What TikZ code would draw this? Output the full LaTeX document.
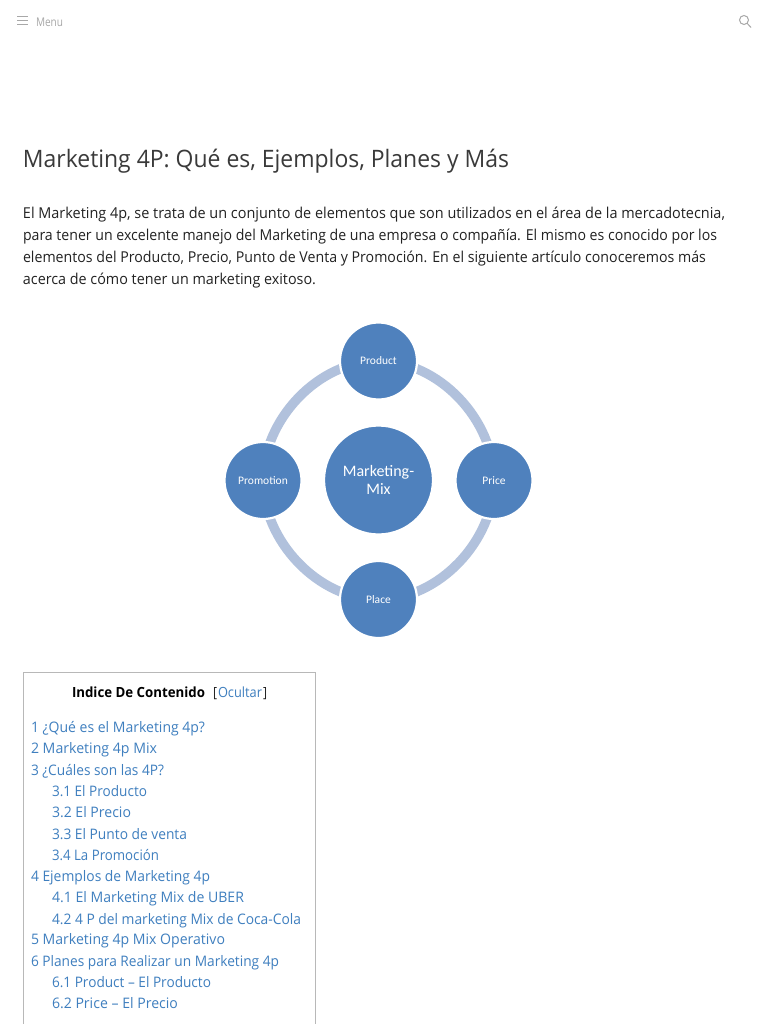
\documentclass[tikz,border=0pt]{standalone}
\usepackage{fontspec}
\usepackage{graphicx}
\setmainfont{Open Sans}
\newfontfamily\diagfont{Carlito}
\definecolor{hub}{HTML}{4F81BD}
\definecolor{ringc}{HTML}{B1C1DC}
\definecolor{linkc}{HTML}{3F7FBF}
\definecolor{inkc}{HTML}{222222}
\definecolor{titlec}{HTML}{3A3A3A}
\definecolor{menuc}{HTML}{A8A8A8}
\definecolor{boxc}{HTML}{B8B8B8}
\newcommand{\pagetext}[6]{%
  \node[txt,#1] (#2) at (#3) {\resizebox{#4pt}{\height}{#5#6}};}
\tikzset{
  txt/.style={anchor=base west,inner sep=0pt,outer sep=0pt},
  para/.style={text=inkc},
  toc/.style={text=linkc},
  circ/.style={circle,fill=hub,draw=white,line width=2.2pt,text=white,align=center,font=\diagfont,inner sep=0pt},
  ringarc/.style={draw=ringc,line width=9.5pt,looseness=0.93},
  icon/.style={draw=menuc,line width=1pt}
}
\begin{document}
\begin{tikzpicture}[x=1pt,y=-1pt]
\useasboundingbox (0,0) rectangle (768,1024);
\clip (0,0) rectangle (768,1024);
\fill[white] (0,0) rectangle (768,1024);
% header
\draw[icon] (17,17) -- (28,17) (17,21) -- (28,21) (17,25) -- (28,25);
\pagetext{text=menuc}{menu}{36,26.5}{27}{\fontsize{12}{14}\selectfont}{Menu}
\draw[icon] (744,20) circle (4.5) (747.3,23.5) -- (751,27.5);
% title
\pagetext{text=titlec}{title}{23,168}{486}{\fontsize{24}{28}\selectfont}{Marketing 4P: Qué es, Ejemplos, Planes y Más}
% paragraph
\pagetext{para}{p1}{23,219}{702}{\fontsize{15}{18}\selectfont}{El Marketing 4p, se trata de un conjunto de elementos que son utilizados en el área de la mercadotecnia,}
\pagetext{para}{p2}{23,240.4}{694}{\fontsize{15}{18}\selectfont}{para tener un excelente manejo del Marketing de una empresa o compañía. El mismo es conocido por los}
\pagetext{para}{p3}{23,262.5}{683}{\fontsize{15}{18}\selectfont}{elementos del Producto, Precio, Punto de Venta y Promoción. En el siguiente artículo conoceremos más}
\pagetext{para}{p4}{23,284}{293}{\fontsize{15}{18}\selectfont}{acerca de cómo tener un marketing exitoso.}
% diagram
\coordinate (cprod) at (378.5,361);
\coordinate (cprice) at (494,480.5);
\coordinate (cplace) at (378.5,599.5);
\coordinate (cpromo) at (263,480.5);
\draw[ringarc] (cprod) to[out=0,in=90] (cprice);
\draw[ringarc] (cprice) to[out=-90,in=0] (cplace);
\draw[ringarc] (cplace) to[out=180,in=-90] (cpromo);
\draw[ringarc] (cpromo) to[out=90,in=180] (cprod);
\node[circ,minimum size=77pt,font=\diagfont\fontsize{11.5}{13}\selectfont] (product) at (cprod) {Product};
\node[circ,minimum size=77pt,font=\diagfont\fontsize{11.5}{13}\selectfont] (price) at (cprice) {Price};
\node[circ,minimum size=77pt,font=\diagfont\fontsize{11.5}{13}\selectfont] (place) at (cplace) {Place};
\node[circ,minimum size=77pt,font=\diagfont\fontsize{11.5}{13}\selectfont] (promotion) at (cpromo) {Promotion};
\node[circ,minimum size=109pt,font=\diagfont\fontsize{16}{18.5}\selectfont] (mix) at (378.5,480) {Marketing-\\Mix};
% contents box
\draw[boxc,line width=1pt] (23.5,1030) -- (23.5,672.5) -- (315.5,672.5) -- (315.5,1030);
\pagetext{text=black}{head}{72,697}{133}{\fontsize{14}{17}\selectfont\bfseries}{Indice De Contenido}
\pagetext{text=inkc}{lb}{213,697}{4}{\fontsize{14}{17}\selectfont}{[}
\pagetext{toc}{hide}{218,697}{44}{\fontsize{14}{17}\selectfont}{Ocultar}
\pagetext{text=inkc}{rb}{263,697}{4}{\fontsize{14}{17}\selectfont}{]}
\pagetext{toc}{t1}{31,732}{174}{\fontsize{14.5}{17}\selectfont}{1 ¿Qué es el Marketing 4p?}
\pagetext{toc}{t2}{31,753}{126}{\fontsize{14.5}{17}\selectfont}{2 Marketing 4p Mix}
\pagetext{toc}{t3}{31,775}{133}{\fontsize{14.5}{17}\selectfont}{3 ¿Cuáles son las 4P?}
\pagetext{toc}{t31}{52,796}{95}{\fontsize{14.5}{17}\selectfont}{3.1 El Producto}
\pagetext{toc}{t32}{52,817}{79}{\fontsize{14.5}{17}\selectfont}{3.2 El Precio}
\pagetext{toc}{t33}{52,839}{135}{\fontsize{14.5}{17}\selectfont}{3.3 El Punto de venta}
\pagetext{toc}{t34}{52,860}{107}{\fontsize{14.5}{17}\selectfont}{3.4 La Promoción}
\pagetext{toc}{t4}{31,881}{179}{\fontsize{14.5}{17}\selectfont}{4 Ejemplos de Marketing 4p}
\pagetext{toc}{t41}{52,902}{192}{\fontsize{14.5}{17}\selectfont}{4.1 El Marketing Mix de UBER}
\pagetext{toc}{t42}{52,924}{249}{\fontsize{14.5}{17}\selectfont}{4.2 4 P del marketing Mix de Coca-Cola}
\pagetext{toc}{t5}{31,944}{194}{\fontsize{14.5}{17}\selectfont}{5 Marketing 4p Mix Operativo}
\pagetext{toc}{t6}{31,966}{248}{\fontsize{14.5}{17}\selectfont}{6 Planes para Realizar un Marketing 4p}
\pagetext{toc}{t61}{52,987}{159}{\fontsize{14.5}{17}\selectfont}{6.1 Product – El Producto}
\pagetext{toc}{t62}{52,1008}{126}{\fontsize{14.5}{17}\selectfont}{6.2 Price – El Precio}
\end{tikzpicture}
\end{document}
